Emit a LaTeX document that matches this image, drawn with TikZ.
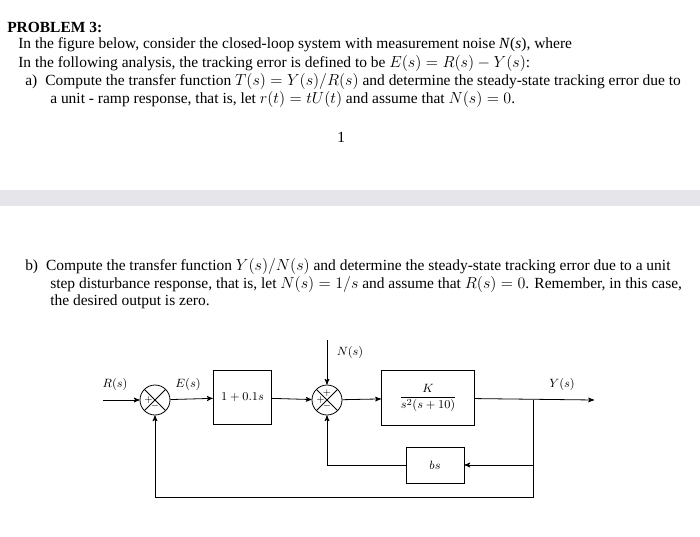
\documentclass[tikz,border=0pt]{standalone}
\usepackage{fontspec}
\setmainfont{Liberation Serif}
\usepackage{amsmath}
\usetikzlibrary{arrows,calc,positioning}
\definecolor{band}{RGB}{229,229,234}
\begin{document}
\begin{tikzpicture}[x=0.75pt,y=-0.75pt,>=stealth',
  txt/.style={anchor=west,inner sep=0pt,font=\fontsize{11.6}{13}\selectfont},
  block/.style={draw,line width=0.6pt,minimum width=#1,minimum height=41pt,inner sep=0pt,font=\fontsize{9.5}{11}\selectfont},
  sum/.style={draw,line width=0.6pt,circle,minimum size=22.5pt,inner sep=0pt,
    path picture={\draw[line width=0.6pt] (path picture bounding box.north west)--(path picture bounding box.south east)
      (path picture bounding box.north east)--(path picture bounding box.south west);}},
  sig/.style={font=\fontsize{7}{7}\selectfont,inner sep=0pt},
  lab/.style={font=\fontsize{9.5}{10}\selectfont,inner sep=1pt},
  wire/.style={line width=0.6pt,->}]
\useasboundingbox (0,0) rectangle (700,536);
% text of the sheet
\node[txt,font=\fontsize{11.6}{13}\selectfont\bfseries] (title) at (7,27) {PROBLEM 3:};
\node[txt] (l1) at (18,45) {In the figure below, consider the closed-loop system with measurement noise \textit{N}(\textit{s}), where};
\node[txt] (l2) at (18,63) {In the following analysis, the tracking error is defined to be $E(s)=R(s)-Y(s)$:};
\node[txt] (l3) at (25,81) {a)\hspace{6pt}Compute the transfer function $T(s)=Y(s)/R(s)$ and determine the steady-state tracking error due to};
\node[txt] (l4) at (50,99) {a unit - ramp response, that is, let $r(t)=tU(t)$ and assume that $N(s)=0$.};
\node[txt] (pg) at (337,137) {1};
\fill[band] (0,190) rectangle (700,206);
\node[txt] (l5) at (25,266) {b)\hspace{6pt}Compute the transfer function $Y(s)/N(s)$ and determine the steady-state tracking error due to a unit};
\node[txt] (l6) at (50,284) {step disturbance response, that is, let $N(s)=1/s$ and assume that $R(s)=0$. Remember, in this case,};
\node[txt] (l7) at (50,302) {the desired output is zero.};
% block diagram
\node[sum] (S1) at (155,400) {};
\node[block=44pt] (G1) at (242.5,397.5) {$1+0.1s$};
\node[sum] (S2) at (327,400) {};
\node[block=70pt] (G2) at (428,398) {$\dfrac{K}{s^2(s+10)}$};
\node[block=43.5pt,minimum height=27pt] (H) at (435,465) {$bs$};
\coordinate (in) at (103,400);
\coordinate (out) at (594,400);
\coordinate (br) at (533,400);
\coordinate (nz) at (327,340);
\draw[wire] (in) -- (S1);
\draw[wire] (S1) -- (G1);
\draw[wire] (G1) -- (S2);
\draw[wire] (S2) -- (G2);
\draw[wire] (G2) -- (out);
\draw[wire] (nz) -- (S2);
\draw[wire] (br) |- (H);
\draw[wire] (H) -| (S2);
\draw[wire] (br) |- (155,497) -- (S1);
\node[sig] at ($(S1.center)+(-6.5,0)$) {$+$};
\node[sig] at ($(S1.center)+(0,6.5)$) {$-$};
\node[sig] at ($(S2.center)+(0,-6.5)$) {$+$};
\node[sig] at ($(S2.center)+(-6.5,0)$) {$+$};
\node[sig] at ($(S2.center)+(0,6.5)$) {$-$};
\node[lab] (R) at (115,384) {$R(s)$};
\node[lab] (E) at (188,384) {$E(s)$};
\node[lab] (N) at (350,352) {$N(s)$};
\node[lab] (Y) at (562,384) {$Y(s)$};
\end{tikzpicture}
\end{document}
